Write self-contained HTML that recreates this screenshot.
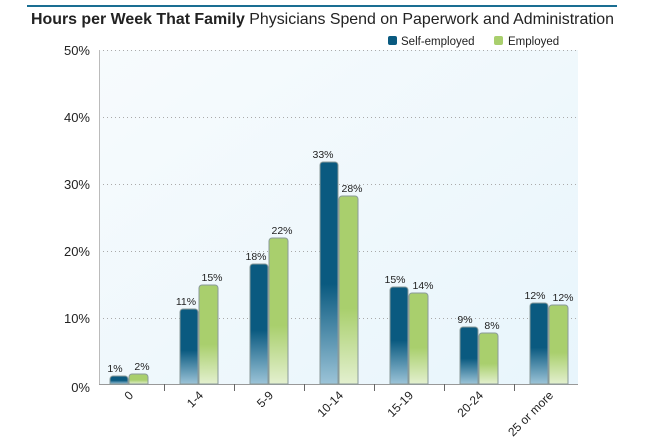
<!DOCTYPE html>
<html><head><meta charset="utf-8"><style>
body{margin:0;background:#fff;width:645px;height:439px;overflow:hidden}
text{font-family:"Liberation Sans",sans-serif;fill:#222}
</style></head><body>
<svg width="645" height="439" viewBox="0 0 645 439" xmlns="http://www.w3.org/2000/svg">
<defs>
<linearGradient id="bg" x1="0" y1="0" x2="1" y2="1"><stop offset="0" stop-color="#f7fbfd"/><stop offset="1" stop-color="#e8f5fc"/></linearGradient>
<linearGradient id="gb" x1="0" y1="0" x2="0" y2="1" gradientUnits="objectBoundingBox"><stop offset="0" stop-color="#0a5a80"/><stop offset="0.55" stop-color="#0a5a80"/><stop offset="1" stop-color="#9cc4d8"/></linearGradient>
<linearGradient id="gg" x1="0" y1="0" x2="0" y2="1"><stop offset="0" stop-color="#a9cf6d"/><stop offset="0.6" stop-color="#a9cf6d"/><stop offset="1" stop-color="#e3f0cf"/></linearGradient>
</defs>
<line x1="27" y1="6" x2="617" y2="6" stroke="#1a6e92" stroke-width="2"/>
<text x="31" y="24" font-size="16" textLength="583" lengthAdjust="spacingAndGlyphs"><tspan font-weight="bold">Hours per Week That Family</tspan> Physicians Spend on Paperwork and Administration</text>
<rect x="99" y="50" width="479" height="334" fill="url(#bg)"/>
<g stroke="#aaa" stroke-dasharray="1,3" stroke-width="1">
<line x1="99" y1="50.5" x2="578" y2="50.5"/><line x1="99" y1="117.5" x2="578" y2="117.5"/><line x1="99" y1="184.5" x2="578" y2="184.5"/><line x1="99" y1="251.5" x2="578" y2="251.5"/><line x1="99" y1="318.5" x2="578" y2="318.5"/>
</g>
<line x1="99.5" y1="50" x2="99.5" y2="384" stroke="#bbb"/>
<line x1="99" y1="384.5" x2="578" y2="384.5" stroke="#999"/>
<g stroke="#666"><line x1="164.5" y1="384" x2="164.5" y2="391"/><line x1="234.5" y1="384" x2="234.5" y2="391"/><line x1="304.5" y1="384" x2="304.5" y2="391"/><line x1="374.5" y1="384" x2="374.5" y2="391"/><line x1="444.5" y1="384" x2="444.5" y2="391"/><line x1="514.5" y1="384" x2="514.5" y2="391"/></g>
<g font-size="13" text-anchor="end">
<text x="90" y="55">50%</text><text x="90" y="122">40%</text><text x="90" y="189">30%</text><text x="90" y="256">20%</text><text x="90" y="323">10%</text><text x="90" y="392">0%</text>
</g>
<rect x="388" y="36" width="9" height="9" rx="2" fill="#0a5a80"/><text x="401" y="45" font-size="11.5">Self-employed</text>
<rect x="494" y="36" width="9" height="9" rx="2" fill="#a9cf6d"/><text x="508" y="45" font-size="11.5">Employed</text>
<g stroke="#8a9a9a" stroke-width="1">
<path d="M110,384V379a3,3 0 0 1 3-3h12a3,3 0 0 1 3,3V384Z" fill="url(#gb)"/>
<path d="M129,384V377a3,3 0 0 1 3-3h13a3,3 0 0 1 3,3V384Z" fill="url(#gg)"/>
<path d="M180,384V312a3,3 0 0 1 3-3h12a3,3 0 0 1 3,3V384Z" fill="url(#gb)"/>
<path d="M199,384V288a3,3 0 0 1 3-3h13a3,3 0 0 1 3,3V384Z" fill="url(#gg)"/>
<path d="M250,384V267a3,3 0 0 1 3-3h12a3,3 0 0 1 3,3V384Z" fill="url(#gb)"/>
<path d="M269,384V241a3,3 0 0 1 3-3h13a3,3 0 0 1 3,3V384Z" fill="url(#gg)"/>
<path d="M320,384V165a3,3 0 0 1 3-3h12a3,3 0 0 1 3,3V384Z" fill="url(#gb)"/>
<path d="M339,384V199a3,3 0 0 1 3-3h13a3,3 0 0 1 3,3V384Z" fill="url(#gg)"/>
<path d="M390,384V290a3,3 0 0 1 3-3h12a3,3 0 0 1 3,3V384Z" fill="url(#gb)"/>
<path d="M409,384V296a3,3 0 0 1 3-3h13a3,3 0 0 1 3,3V384Z" fill="url(#gg)"/>
<path d="M460,384V330a3,3 0 0 1 3-3h12a3,3 0 0 1 3,3V384Z" fill="url(#gb)"/>
<path d="M479,384V336a3,3 0 0 1 3-3h13a3,3 0 0 1 3,3V384Z" fill="url(#gg)"/>
<path d="M530,384V306a3,3 0 0 1 3-3h12a3,3 0 0 1 3,3V384Z" fill="url(#gb)"/>
<path d="M549,384V308a3,3 0 0 1 3-3h13a3,3 0 0 1 3,3V384Z" fill="url(#gg)"/>
</g>
<g font-size="10.5" text-anchor="middle">
<text x="115" y="372">1%</text><text x="142" y="370">2%</text>
<text x="186" y="305">11%</text><text x="212" y="281">15%</text>
<text x="256" y="260">18%</text><text x="282" y="234">22%</text>
<text x="323" y="158">33%</text><text x="352" y="192">28%</text>
<text x="395" y="283">15%</text><text x="423" y="289">14%</text>
<text x="465" y="323">9%</text><text x="492" y="329">8%</text>
<text x="535" y="299">12%</text><text x="563" y="301">12%</text>
</g>
<g font-size="12" text-anchor="end">
<text transform="translate(134,396) rotate(-45)">0</text>
<text transform="translate(204,396) rotate(-45)">1-4</text>
<text transform="translate(274,396) rotate(-45)">5-9</text>
<text transform="translate(344,396) rotate(-45)">10-14</text>
<text transform="translate(414,396) rotate(-45)">15-19</text>
<text transform="translate(484,396) rotate(-45)">20-24</text>
<text transform="translate(554,396) rotate(-45)">25 or more</text>
</g>
</svg>
</body></html>
